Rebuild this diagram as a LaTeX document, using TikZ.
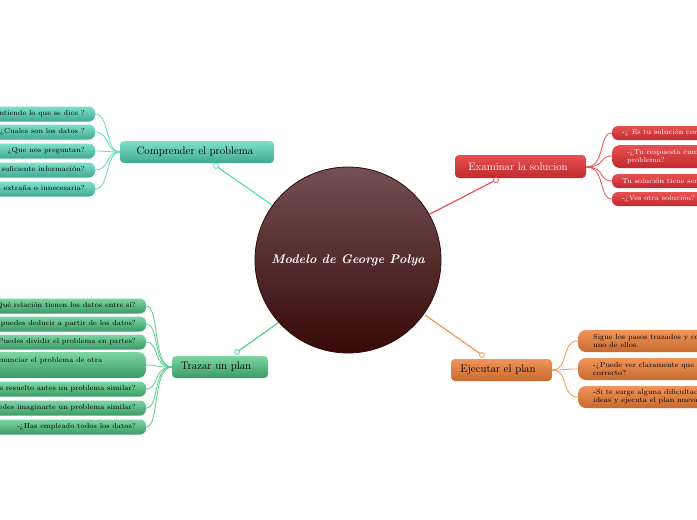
\documentclass[tikz,border=0pt]{standalone}
\begin{document}
\begin{tikzpicture}[x=1pt,y=-1pt,
  lf/.style={font=\fontsize{7.3}{8}\selectfont, inner sep=0pt},
  br/.style={font=\fontsize{11}{12}\selectfont, inner sep=0pt},
  dot/.style={circle,draw,fill=white,minimum size=5pt,inner sep=0pt,line width=0.8pt}]
\useasboundingbox (0,0) rectangle (697,520);
\clip (0,0) rectangle (697,520);
\definecolor{tq}{HTML}{5FD9C0}\definecolor{tqd}{HTML}{3FA890}
\definecolor{gr}{HTML}{5CCB8E}\definecolor{grd}{HTML}{3A9A66}
\definecolor{rd}{HTML}{E85050}\definecolor{rdd}{HTML}{C02A30}
\definecolor{og}{HTML}{F0955A}\definecolor{ogd}{HTML}{C86A30}
\definecolor{ctop}{HTML}{735050}\definecolor{cbot}{HTML}{370808}\definecolor{cline}{HTML}{320A0A}
% connectors to center
\draw[tq,line width=1.2pt] (216,166) -- (272,205);
\draw[gr,line width=1.2pt] (237,352) -- (285,318);
\draw[rd,line width=1.2pt] (496,180) -- (430,214);
\draw[og,line width=1.2pt] (482,355) -- (425,315);
% center
\shade[top color=ctop,bottom color=cbot] (348,260) circle (93);
\draw[cline,line width=0.8pt] (348,260) circle (93);
\node[text=white,font=\bfseries\itshape\fontsize{12.5}{13}\selectfont] (c) at (348,260) {Modelo de George Polya};
% Comprender
\foreach \y in {114,132,151,170,189}{\draw[tq,line width=0.8pt] (120,152) .. controls (105,152) and (110,\y) .. (95,\y);}
\foreach \y in {114,132,151,170,189}{\shade[rounded corners=6pt,top color=tq!80!white,bottom color=tqd] (-80,\y-7.5) rectangle (95,\y+7.5);}
\node[lf,anchor=east] at (85,114) {¿Entiende lo que se dice ?};
\node[lf,anchor=east] at (85,132) {¿Cuales son los datos ?};
\node[lf,anchor=east] at (85,151) {¿Que nos preguntan?};
\node[lf,anchor=east] at (85,170) {¿Hay suficiente información?};
\node[lf,anchor=east] at (85,189) {¿Hay información extraña o innecesaria?};
\shade[rounded corners=4pt,top color=tq!80!white,bottom color=tqd] (120,141) rectangle (274,163);
\node[br] (cp) at (195,152) {Comprender el problema};
\node[dot,draw=tq] at (216,166) {};
% Trazar
\foreach \y in {306,324,342,365,389,408,427}{\draw[gr,line width=0.8pt] (172,367) .. controls (152,367) and (160,\y) .. (146,\y);}
\foreach \y in {306,324,342,389,408,427}{\shade[rounded corners=6pt,top color=gr!80!white,bottom color=grd] (-80,\y-7.5) rectangle (146,\y+7.5);}
\shade[rounded corners=8pt,top color=gr!80!white,bottom color=grd] (-80,352) rectangle (146,378);
\node[lf,anchor=east] at (136,306) {¿Qué relación tienen los datos entre sí?};
\node[lf,anchor=east] at (136,324) {¿Qué puedes deducir a partir de los datos?};
\node[lf,anchor=east] at (136,342) {¿Puedes dividir el problema en partes?};
\node[lf,anchor=north west,align=left] at (-38,357) {-¿Puedes enunciar el problema de otra\\forma?};
\node[lf,anchor=east] at (136,389) {¿Has resuelto antes un problema similar?};
\node[lf,anchor=east] at (136,408) {¿Puedes imaginarte un problema similar?};
\node[lf,anchor=east] at (136,427) {-¿Has empleado todos los datos?};
\shade[rounded corners=4pt,top color=gr!80!white,bottom color=grd] (172,356) rectangle (268,378);
\node[br] (tp) at (216,367) {Trazar un plan};
\node[dot,draw=gr] at (237,352) {};
% Examinar
\foreach \y in {133,156,181,199}{\draw[rd,line width=0.8pt] (586,167) .. controls (606,167) and (598,\y) .. (612,\y);}
\foreach \y in {133,181,199}{\shade[rounded corners=6pt,top color=rd,bottom color=rdd] (612,\y-7) rectangle (800,\y+7);}
\shade[rounded corners=8pt,top color=rd,bottom color=rdd] (612,145) rectangle (800,168);
\node[lf,text=white,anchor=west] at (622,133) {-¿ Es tu solución correcta?};
\node[lf,text=white,anchor=west,align=left] at (627,156.5) {-¿Tu respuesta cumple lo que se pide en el\\problema?};
\node[lf,text=white,anchor=west] at (622,181) {Tu solución tiene sentido?};
\node[lf,text=white,anchor=west] at (622,199) {-¿Ves otra solución?};
\shade[rounded corners=4pt,top color=rd,bottom color=rdd] (455,155) rectangle (586,178);
\node[br,text=white] (ex) at (518,167) {Examinar la solucion};
\node[dot,draw=rd] at (496,180) {};
% Ejecutar
\foreach \y in {341,369,397}{\draw[og,line width=0.8pt] (552,370) .. controls (570,370) and (560,\y) .. (578,\y);}
\foreach \y in {341,369,397}{\shade[rounded corners=8pt,top color=og,bottom color=ogd] (578,\y-11) rectangle (800,\y+11);}
\node[lf,anchor=west,align=left] at (593,341) {Sigue los pasos trazados y comprueba cada\\uno de ellos.};
\node[lf,anchor=west,align=left] at (593,369) {-¿Puede ver claramente que el paso es\\correcto?};
\node[lf,anchor=west,align=left] at (593,397) {-Si te surge alguna dificultad vuelve a la fase de\\ideas y ejecuta el plan nuevamente.};
\shade[rounded corners=4pt,top color=og,bottom color=ogd] (451,359) rectangle (552,381);
\node[br] (ej) at (498,370) {Ejecutar el plan};
\node[dot,draw=og] at (482,355) {};
\end{tikzpicture}
\end{document}
